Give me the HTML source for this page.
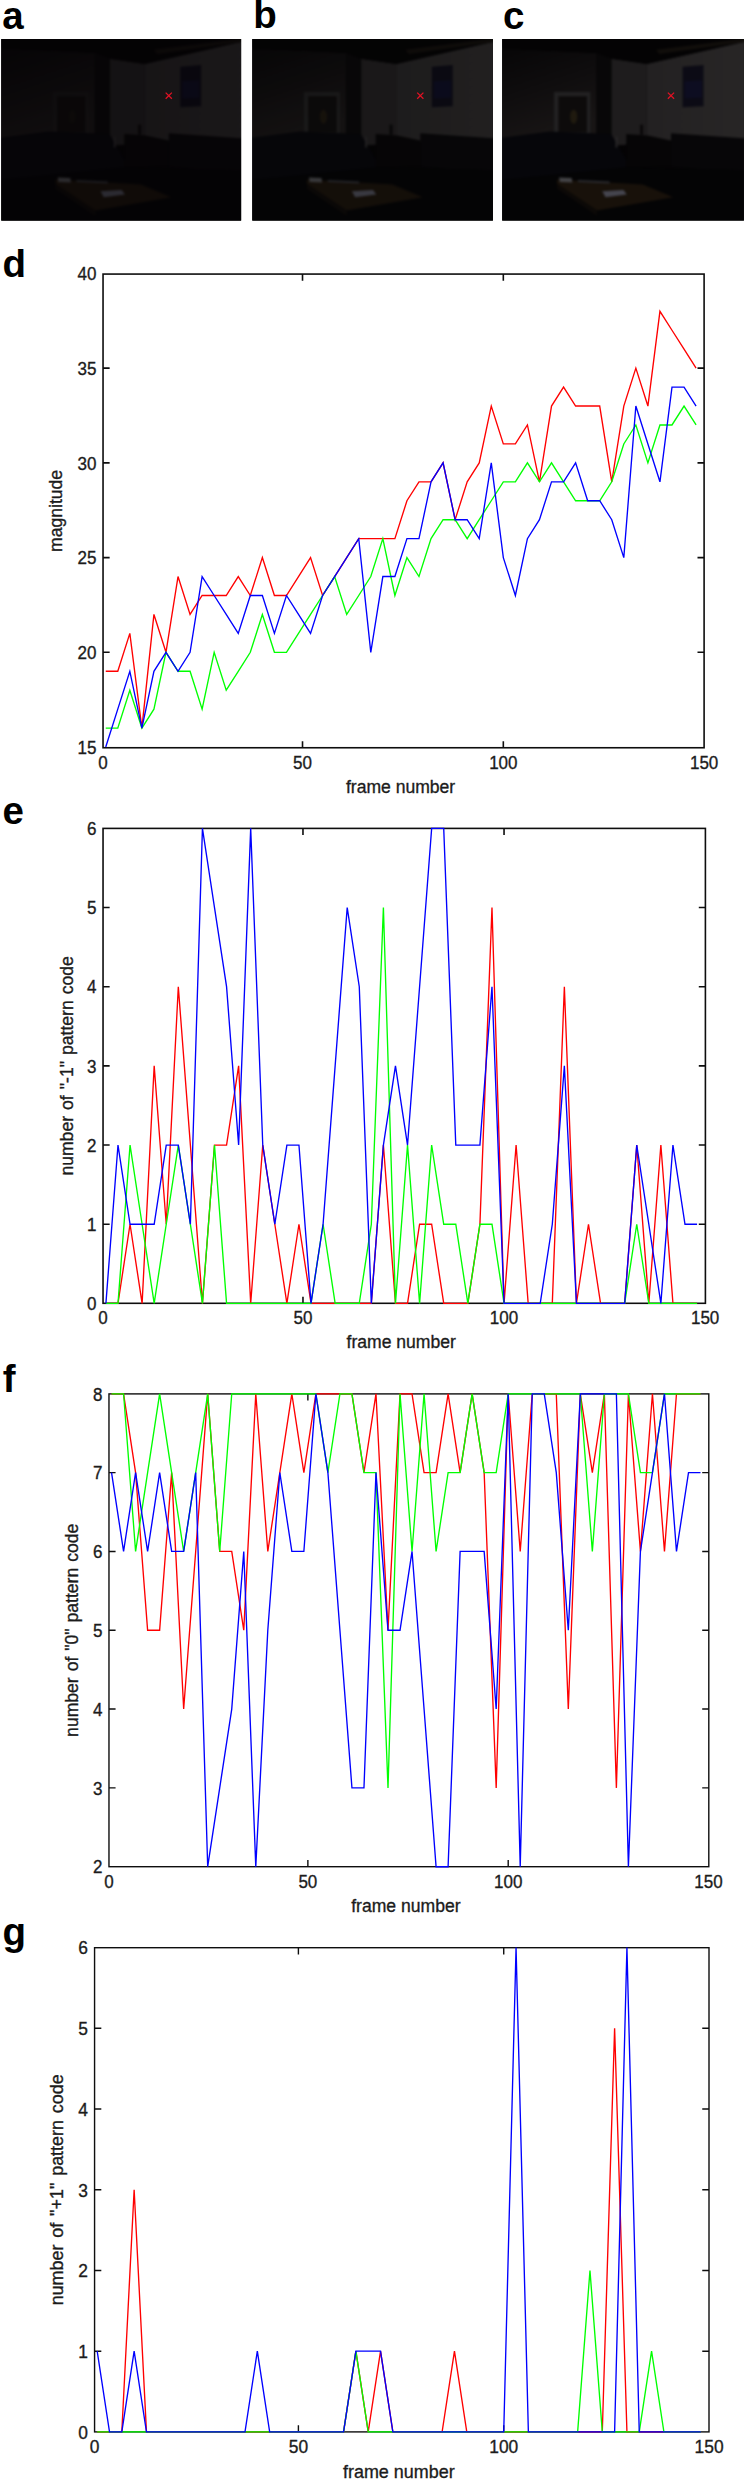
<!DOCTYPE html>
<html lang="en"><head><meta charset="utf-8"><title>Figure</title>
<style>html,body{margin:0;padding:0;background:#fff}svg{display:block}text{font-family:"Liberation Sans", Arial, Helvetica, sans-serif;fill:#1c1c1c;stroke:#1c1c1c;stroke-width:.35px}.pl{font-weight:700;font-size:38.5px;fill:#000;stroke:none}</style>
</head><body>
<svg width="746" height="2481" viewBox="0 0 746 2481">
<rect width="746" height="2481" fill="#fff"/>
<defs>
<filter id="soft" color-interpolation-filters="sRGB" x="-5%" y="-5%" width="110%" height="110%"><feGaussianBlur stdDeviation="1.0"/></filter>
<linearGradient id="lw" x1="0" y1="0" x2="0.35" y2="1"><stop offset="0" stop-color="#080708"/><stop offset="0.5" stop-color="#100e0f"/><stop offset="1" stop-color="#191616"/></linearGradient>
<linearGradient id="rw" x1="0" y1="0" x2="1" y2="0"><stop offset="0" stop-color="#252324"/><stop offset="1" stop-color="#2a2828"/></linearGradient>
</defs>
<g transform="translate(1.30 39.10) scale(0.9992 1.0000)">
<clipPath id="rc1"><rect width="240" height="181.5"/></clipPath>
<rect width="240" height="181.5" fill="#060506"/>
<g clip-path="url(#rc1)"><g filter="url(#soft)">
<polygon points="-2.2,9.1 94.1,14.0 94.1,94.8 -2.2,101.4" fill="url(#lw)"/>
<polygon points="93.4,-0.8 108.6,-0.8 108.6,109.7 93.4,109.7" fill="#090809"/>
<polygon points="108.6,19.7 143.5,24.9 143.5,104.7 108.6,106.4" fill="#201e1f"/>
<polygon points="143.5,24.9 243.4,1.8 243.4,101.4 143.5,103.1" fill="url(#rw)"/>
<polygon points="-2.2,-4.1 243.4,-4.1 243.4,1.8 143.5,24.9 108.6,19.7 94.1,14.0 -2.2,9.1" fill="#050405"/>
<polygon points="152.8,10.7 243.4,-0.8 243.4,2.5 156.1,15.0" fill="#120f0c"/>
<polygon points="179.1,27.6 199.9,25.9 199.9,67.1 179.1,68.1" fill="#0d0c16"/>
<polygon points="181.1,42.1 198.3,41.1 198.3,58.6 181.1,59.5" fill="#12124a" opacity=".25"/>
<polygon points="51.5,53.0 87.5,53.0 87.5,94.2 51.5,94.2" fill="#242324" opacity="0.25"/>
<polygon points="55.8,57.2 84.2,57.2 84.2,93.5 55.8,93.5" fill="#0e0c0c"/>
<ellipse cx="71.0" cy="77.7" rx="3.5" ry="7" fill="#221c10" opacity="0.25"/>
<polygon points="-2.2,98.8 47.2,92.5 108.2,94.8 124.7,122.8 124.7,150.9 -2.2,150.9" fill="#07070b"/>
<polygon points="123.1,94.8 144.5,96.5 167.6,101.4 167.6,127.8 123.1,127.8" fill="#070607"/>
<rect x="112.5" y="97.5" width="2" height="11" fill="#2a282a"/>
<rect x="136.9" y="85.6" width="3" height="10" fill="#0a090a"/>
<polygon points="167.6,94.2 243.4,99.4 243.4,134.4 167.6,127.8" fill="#080709"/>
<polygon points="-2.2,141.0 124.7,127.8 243.4,131.1 243.4,187.1 -2.2,187.1" fill="#050506"/>
<polygon points="54.5,140.3 139.6,145.3 169.9,158.1 94.1,171.3 54.5,144.9" fill="#19120b"/>
<polygon points="54.5,144.9 94.1,171.3 94.1,176.6 54.5,149.6" fill="#0d0a08"/>
<polygon points="56.5,138.3 69.0,139.0 69.7,143.3 57.1,143.0" fill="#454548"/>
<polygon points="75.3,141.0 106.6,142.3 106.6,144.3 75.3,143.0" fill="#2c2c30"/>
<polygon points="99.3,152.2 120.4,150.9 123.7,155.5 102.6,158.1" fill="#484852"/>
</g></g>
<rect width="240" height="181.5" fill="#040304" opacity="0.42"/>
<path d="M164.5 53.5L170.7 59.7M164.5 59.7L170.7 53.5" stroke="#e01224" stroke-width="1.3" fill="none"/>
</g>
<g transform="translate(252.30 39.10) scale(1.0025 1.0000)">
<clipPath id="rc2"><rect width="240" height="181.5"/></clipPath>
<rect width="240" height="181.5" fill="#060506"/>
<g clip-path="url(#rc2)"><g filter="url(#soft)">
<polygon points="-2.2,9.1 94.1,14.0 94.1,94.8 -2.2,101.4" fill="url(#lw)"/>
<polygon points="93.4,-0.8 108.6,-0.8 108.6,109.7 93.4,109.7" fill="#090809"/>
<polygon points="108.6,19.7 143.5,24.9 143.5,104.7 108.6,106.4" fill="#201e1f"/>
<polygon points="143.5,24.9 243.4,1.8 243.4,101.4 143.5,103.1" fill="url(#rw)"/>
<polygon points="-2.2,-4.1 243.4,-4.1 243.4,1.8 143.5,24.9 108.6,19.7 94.1,14.0 -2.2,9.1" fill="#050405"/>
<polygon points="152.8,10.7 243.4,-0.8 243.4,2.5 156.1,15.0" fill="#120f0c"/>
<polygon points="179.1,27.6 199.9,25.9 199.9,67.1 179.1,68.1" fill="#0d0c16"/>
<polygon points="181.1,42.1 198.3,41.1 198.3,58.6 181.1,59.5" fill="#12124a" opacity=".25"/>
<polygon points="51.5,53.0 87.5,53.0 87.5,94.2 51.5,94.2" fill="#242324" opacity="0.70"/>
<polygon points="55.8,57.2 84.2,57.2 84.2,93.5 55.8,93.5" fill="#0e0c0c"/>
<ellipse cx="71.0" cy="77.7" rx="3.5" ry="7" fill="#221c10" opacity="0.70"/>
<polygon points="-2.2,98.8 47.2,92.5 108.2,94.8 124.7,122.8 124.7,150.9 -2.2,150.9" fill="#07070b"/>
<polygon points="123.1,94.8 144.5,96.5 167.6,101.4 167.6,127.8 123.1,127.8" fill="#070607"/>
<rect x="112.5" y="97.5" width="2" height="11" fill="#2a282a"/>
<rect x="136.9" y="85.6" width="3" height="10" fill="#0a090a"/>
<polygon points="167.6,94.2 243.4,99.4 243.4,134.4 167.6,127.8" fill="#080709"/>
<polygon points="-2.2,141.0 124.7,127.8 243.4,131.1 243.4,187.1 -2.2,187.1" fill="#050506"/>
<polygon points="54.5,140.3 139.6,145.3 169.9,158.1 94.1,171.3 54.5,144.9" fill="#19120b"/>
<polygon points="54.5,144.9 94.1,171.3 94.1,176.6 54.5,149.6" fill="#0d0a08"/>
<polygon points="56.5,138.3 69.0,139.0 69.7,143.3 57.1,143.0" fill="#454548"/>
<polygon points="75.3,141.0 106.6,142.3 106.6,144.3 75.3,143.0" fill="#2c2c30"/>
<polygon points="99.3,152.2 120.4,150.9 123.7,155.5 102.6,158.1" fill="#484852"/>
</g></g>
<rect width="240" height="181.5" fill="#040304" opacity="0.22"/>
<path d="M164.5 53.5L170.7 59.7M164.5 59.7L170.7 53.5" stroke="#e01224" stroke-width="1.3" fill="none"/>
</g>
<g transform="translate(502.20 39.10) scale(1.0071 1.0000)">
<clipPath id="rc3"><rect width="240" height="181.5"/></clipPath>
<rect width="240" height="181.5" fill="#060506"/>
<g clip-path="url(#rc3)"><g filter="url(#soft)">
<polygon points="-2.2,9.1 94.1,14.0 94.1,94.8 -2.2,101.4" fill="url(#lw)"/>
<polygon points="93.4,-0.8 108.6,-0.8 108.6,109.7 93.4,109.7" fill="#090809"/>
<polygon points="108.6,19.7 143.5,24.9 143.5,104.7 108.6,106.4" fill="#201e1f"/>
<polygon points="143.5,24.9 243.4,1.8 243.4,101.4 143.5,103.1" fill="url(#rw)"/>
<polygon points="-2.2,-4.1 243.4,-4.1 243.4,1.8 143.5,24.9 108.6,19.7 94.1,14.0 -2.2,9.1" fill="#050405"/>
<polygon points="152.8,10.7 243.4,-0.8 243.4,2.5 156.1,15.0" fill="#120f0c"/>
<polygon points="179.1,27.6 199.9,25.9 199.9,67.1 179.1,68.1" fill="#0d0c16"/>
<polygon points="181.1,42.1 198.3,41.1 198.3,58.6 181.1,59.5" fill="#12124a" opacity=".25"/>
<polygon points="51.5,53.0 87.5,53.0 87.5,94.2 51.5,94.2" fill="#242324" opacity="1.00"/>
<polygon points="55.8,57.2 84.2,57.2 84.2,93.5 55.8,93.5" fill="#0e0c0c"/>
<ellipse cx="71.0" cy="77.7" rx="3.5" ry="7" fill="#221c10" opacity="1.00"/>
<polygon points="-2.2,98.8 47.2,92.5 108.2,94.8 124.7,122.8 124.7,150.9 -2.2,150.9" fill="#07070b"/>
<polygon points="123.1,94.8 144.5,96.5 167.6,101.4 167.6,127.8 123.1,127.8" fill="#070607"/>
<rect x="112.5" y="97.5" width="2" height="11" fill="#2a282a"/>
<rect x="136.9" y="85.6" width="3" height="10" fill="#0a090a"/>
<polygon points="167.6,94.2 243.4,99.4 243.4,134.4 167.6,127.8" fill="#080709"/>
<polygon points="-2.2,141.0 124.7,127.8 243.4,131.1 243.4,187.1 -2.2,187.1" fill="#050506"/>
<polygon points="54.5,140.3 139.6,145.3 169.9,158.1 94.1,171.3 54.5,144.9" fill="#19120b"/>
<polygon points="54.5,144.9 94.1,171.3 94.1,176.6 54.5,149.6" fill="#0d0a08"/>
<polygon points="56.5,138.3 69.0,139.0 69.7,143.3 57.1,143.0" fill="#454548"/>
<polygon points="75.3,141.0 106.6,142.3 106.6,144.3 75.3,143.0" fill="#2c2c30"/>
<polygon points="99.3,152.2 120.4,150.9 123.7,155.5 102.6,158.1" fill="#484852"/>
</g></g>
<rect width="240" height="181.5" fill="#040304" opacity="0.04"/>
<path d="M164.5 53.5L170.7 59.7M164.5 59.7L170.7 53.5" stroke="#e01224" stroke-width="1.3" fill="none"/>
</g>
<text class="pl" x="2.20" y="28.50">a</text>
<text class="pl" x="253.20" y="28.30">b</text>
<text class="pl" x="503.00" y="28.50">c</text>
<text class="pl" x="2.40" y="276.60">d</text>
<text class="pl" x="2.40" y="823.80">e</text>
<text class="pl" x="2.80" y="1392.30">f</text>
<text class="pl" x="2.60" y="1945.00">g</text>
<rect x="103.04" y="274.07" width="601.06" height="473.68" fill="none" stroke="#0e0e0e" stroke-width="1.60"/>
<path d="M302.52 747.75V741.15M302.52 274.07V280.67M503.32 747.75V741.15M503.32 274.07V280.67M103.04 652.32H109.64M704.10 652.32H697.50M103.04 557.60H109.64M704.10 557.60H697.50M103.04 462.87H109.64M704.10 462.87H697.50M103.04 368.15H109.64M704.10 368.15H697.50" stroke="#0e0e0e" stroke-width="1.60" fill="none"/>
<text transform="translate(96.44 753.75) scale(0.910 1)" text-anchor="end" font-size="18.70">15</text>
<text transform="translate(96.44 659.02) scale(0.910 1)" text-anchor="end" font-size="18.70">20</text>
<text transform="translate(96.44 564.30) scale(0.910 1)" text-anchor="end" font-size="18.70">25</text>
<text transform="translate(96.44 469.57) scale(0.910 1)" text-anchor="end" font-size="18.70">30</text>
<text transform="translate(96.44 374.85) scale(0.910 1)" text-anchor="end" font-size="18.70">35</text>
<text transform="translate(96.44 280.12) scale(0.910 1)" text-anchor="end" font-size="18.70">40</text>
<text transform="translate(103.04 768.85) scale(0.910 1)" text-anchor="middle" font-size="18.70">0</text>
<text transform="translate(302.52 768.85) scale(0.910 1)" text-anchor="middle" font-size="18.70">50</text>
<text transform="translate(503.32 768.85) scale(0.910 1)" text-anchor="middle" font-size="18.70">100</text>
<text transform="translate(704.12 768.85) scale(0.910 1)" text-anchor="middle" font-size="18.70">150</text>
<text transform="translate(400.57 792.75) scale(0.940 1)" text-anchor="middle" font-size="18.70">frame number</text>
<text transform="translate(62.20 510.91) rotate(-90) scale(0.940 1)" text-anchor="middle" font-size="18.70">magnitude</text>
<polyline points="105.74,671.27 117.78,671.27 129.83,633.38 141.88,728.10 153.93,614.43 165.98,652.32 178.02,576.54 190.07,614.43 202.12,595.49 214.17,595.49 226.22,595.49 238.26,576.54 250.31,595.49 262.36,557.60 274.41,595.49 286.46,595.49 298.50,576.54 310.55,557.60 322.60,595.49 334.65,576.54 346.70,557.60 358.74,538.65 370.79,538.65 382.84,538.65 394.89,538.65 406.94,500.76 418.98,481.82 431.03,481.82 443.08,462.87 455.13,519.71 467.18,481.82 479.22,462.87 491.27,406.04 503.32,443.93 515.37,443.93 527.42,424.98 539.46,481.82 551.51,406.04 563.56,387.09 575.61,406.04 587.66,406.04 599.70,406.04 611.75,481.82 623.80,406.04 635.85,368.15 647.90,406.04 659.94,311.31 671.99,330.26 684.04,349.20 696.09,368.15" fill="none" stroke="#ff0000" stroke-width="1.35" stroke-linejoin="miter"/>
<polyline points="105.74,728.10 117.78,728.10 129.83,690.21 141.88,728.10 153.93,709.16 165.98,652.32 178.02,671.27 190.07,671.27 202.12,709.16 214.17,652.32 226.22,690.21 238.26,671.27 250.31,652.32 262.36,614.43 274.41,652.32 286.46,652.32 298.50,633.38 310.55,614.43 322.60,595.49 334.65,576.54 346.70,614.43 358.74,595.49 370.79,576.54 382.84,538.65 394.89,595.49 406.94,557.60 418.98,576.54 431.03,538.65 443.08,519.71 455.13,519.71 467.18,538.65 479.22,519.71 491.27,500.76 503.32,481.82 515.37,481.82 527.42,462.87 539.46,481.82 551.51,462.87 563.56,481.82 575.61,500.76 587.66,500.76 599.70,500.76 611.75,481.82 623.80,443.93 635.85,424.98 647.90,462.87 659.94,424.98 671.99,424.98 684.04,406.04 696.09,424.98" fill="none" stroke="#00ff00" stroke-width="1.35" stroke-linejoin="miter"/>
<polyline points="105.74,747.05 117.78,709.16 129.83,671.27 141.88,728.10 153.93,671.27 165.98,652.32 178.02,671.27 190.07,652.32 202.12,576.54 214.17,595.49 226.22,614.43 238.26,633.38 250.31,595.49 262.36,595.49 274.41,633.38 286.46,595.49 298.50,614.43 310.55,633.38 322.60,595.49 334.65,576.54 346.70,557.60 358.74,538.65 370.79,652.32 382.84,576.54 394.89,576.54 406.94,538.65 418.98,538.65 431.03,481.82 443.08,462.87 455.13,519.71 467.18,519.71 479.22,538.65 491.27,462.87 503.32,557.60 515.37,595.49 527.42,538.65 539.46,519.71 551.51,481.82 563.56,481.82 575.61,462.87 587.66,500.76 599.70,500.76 611.75,519.71 623.80,557.60 635.85,406.04 647.90,443.93 659.94,481.82 671.99,387.09 684.04,387.09 696.09,406.04" fill="none" stroke="#0000ff" stroke-width="1.35" stroke-linejoin="miter"/>
<rect x="103.04" y="828.40" width="602.36" height="474.90" fill="none" stroke="#0e0e0e" stroke-width="1.60"/>
<path d="M302.97 1303.30V1296.70M302.97 828.40V835.00M504.04 1303.30V1296.70M504.04 828.40V835.00M103.04 1224.23H109.64M705.40 1224.23H698.80M103.04 1145.05H109.64M705.40 1145.05H698.80M103.04 1065.88H109.64M705.40 1065.88H698.80M103.04 986.70H109.64M705.40 986.70H698.80M103.04 907.53H109.64M705.40 907.53H698.80" stroke="#0e0e0e" stroke-width="1.60" fill="none"/>
<text transform="translate(96.44 1310.10) scale(0.910 1)" text-anchor="end" font-size="18.70">0</text>
<text transform="translate(96.44 1230.93) scale(0.910 1)" text-anchor="end" font-size="18.70">1</text>
<text transform="translate(96.44 1151.75) scale(0.910 1)" text-anchor="end" font-size="18.70">2</text>
<text transform="translate(96.44 1072.58) scale(0.910 1)" text-anchor="end" font-size="18.70">3</text>
<text transform="translate(96.44 993.40) scale(0.910 1)" text-anchor="end" font-size="18.70">4</text>
<text transform="translate(96.44 914.23) scale(0.910 1)" text-anchor="end" font-size="18.70">5</text>
<text transform="translate(96.44 835.05) scale(0.910 1)" text-anchor="end" font-size="18.70">6</text>
<text transform="translate(103.04 1324.40) scale(0.910 1)" text-anchor="middle" font-size="18.70">0</text>
<text transform="translate(302.97 1324.40) scale(0.910 1)" text-anchor="middle" font-size="18.70">50</text>
<text transform="translate(504.04 1324.40) scale(0.910 1)" text-anchor="middle" font-size="18.70">100</text>
<text transform="translate(705.11 1324.40) scale(0.910 1)" text-anchor="middle" font-size="18.70">150</text>
<text transform="translate(401.22 1348.30) scale(0.940 1)" text-anchor="middle" font-size="18.70">frame number</text>
<text transform="translate(72.90 1065.85) rotate(-90) scale(0.940 1)" text-anchor="middle" font-size="18.70" word-spacing="1.30">number of "-1" pattern code</text>
<polyline points="105.92,1303.40 117.99,1303.40 130.05,1224.23 142.11,1303.40 154.18,1065.88 166.24,1224.23 178.31,986.70 190.37,1145.05 202.44,1303.40 214.50,1145.05 226.56,1145.05 238.63,1065.88 250.69,1303.40 262.76,1145.05 274.82,1224.23 286.88,1303.40 298.95,1224.23 311.01,1303.40 323.08,1303.40 335.14,1303.40 347.21,1303.40 359.27,1303.40 371.33,1303.40 383.40,1145.05 395.46,1303.40 407.53,1303.40 419.59,1224.23 431.65,1224.23 443.72,1303.40 455.78,1303.40 467.85,1303.40 479.91,1224.23 491.98,907.53 504.04,1303.40 516.10,1145.05 528.17,1303.40 540.23,1303.40 552.30,1303.40 564.36,986.70 576.43,1303.40 588.49,1224.23 600.55,1303.40 612.62,1303.40 624.68,1303.40 636.75,1145.05 648.81,1303.40 660.87,1145.05 672.94,1303.40 685.00,1303.40 697.07,1303.40" fill="none" stroke="#ff0000" stroke-width="1.35" stroke-linejoin="miter"/>
<polyline points="105.92,1303.40 117.99,1303.40 130.05,1145.05 142.11,1224.23 154.18,1303.40 166.24,1224.23 178.31,1145.05 190.37,1224.23 202.44,1303.40 214.50,1145.05 226.56,1303.40 238.63,1303.40 250.69,1303.40 262.76,1303.40 274.82,1303.40 286.88,1303.40 298.95,1303.40 311.01,1303.40 323.08,1224.23 335.14,1303.40 347.21,1303.40 359.27,1303.40 371.33,1224.23 383.40,907.53 395.46,1303.40 407.53,1145.05 419.59,1303.40 431.65,1145.05 443.72,1224.23 455.78,1224.23 467.85,1303.40 479.91,1224.23 491.98,1224.23 504.04,1303.40 516.10,1303.40 528.17,1303.40 540.23,1303.40 552.30,1303.40 564.36,1303.40 576.43,1303.40 588.49,1303.40 600.55,1303.40 612.62,1303.40 624.68,1303.40 636.75,1224.23 648.81,1303.40 660.87,1303.40 672.94,1303.40 685.00,1303.40 697.07,1303.40" fill="none" stroke="#00ff00" stroke-width="1.35" stroke-linejoin="miter"/>
<polyline points="105.92,1303.40 117.99,1145.05 130.05,1224.23 142.11,1224.23 154.18,1224.23 166.24,1145.05 178.31,1145.05 190.37,1224.23 202.44,828.35 214.50,907.53 226.56,986.70 238.63,1145.05 250.69,828.35 262.76,1145.05 274.82,1224.23 286.88,1145.05 298.95,1145.05 311.01,1303.40 323.08,1224.23 335.14,1065.88 347.21,907.53 359.27,986.70 371.33,1303.40 383.40,1145.05 395.46,1065.88 407.53,1145.05 419.59,986.70 431.65,828.35 443.72,828.35 455.78,1145.05 467.85,1145.05 479.91,1145.05 491.98,986.70 504.04,1303.40 516.10,1303.40 528.17,1303.40 540.23,1303.40 552.30,1224.23 564.36,1065.88 576.43,1303.40 588.49,1303.40 600.55,1303.40 612.62,1303.40 624.68,1303.40 636.75,1145.05 648.81,1224.23 660.87,1303.40 672.94,1145.05 685.00,1224.23 697.07,1224.23" fill="none" stroke="#0000ff" stroke-width="1.35" stroke-linejoin="miter"/>
<rect x="108.97" y="1393.90" width="599.83" height="472.80" fill="none" stroke="#0e0e0e" stroke-width="1.40"/>
<path d="M307.87 1866.70V1860.10M307.87 1393.90V1400.50M508.20 1866.70V1860.10M508.20 1393.90V1400.50M108.97 1787.88H115.57M708.80 1787.88H702.20M108.97 1709.07H115.57M708.80 1709.07H702.20M108.97 1630.26H115.57M708.80 1630.26H702.20M108.97 1551.44H115.57M708.80 1551.44H702.20M108.97 1472.62H115.57M708.80 1472.62H702.20" stroke="#0e0e0e" stroke-width="1.40" fill="none"/>
<text transform="translate(102.37 1873.40) scale(0.910 1)" text-anchor="end" font-size="18.70">2</text>
<text transform="translate(102.37 1794.59) scale(0.910 1)" text-anchor="end" font-size="18.70">3</text>
<text transform="translate(102.37 1715.77) scale(0.910 1)" text-anchor="end" font-size="18.70">4</text>
<text transform="translate(102.37 1636.96) scale(0.910 1)" text-anchor="end" font-size="18.70">5</text>
<text transform="translate(102.37 1558.14) scale(0.910 1)" text-anchor="end" font-size="18.70">6</text>
<text transform="translate(102.37 1479.33) scale(0.910 1)" text-anchor="end" font-size="18.70">7</text>
<text transform="translate(102.37 1400.51) scale(0.910 1)" text-anchor="end" font-size="18.70">8</text>
<text transform="translate(108.97 1887.80) scale(0.910 1)" text-anchor="middle" font-size="18.70">0</text>
<text transform="translate(307.87 1887.80) scale(0.910 1)" text-anchor="middle" font-size="18.70">50</text>
<text transform="translate(508.20 1887.80) scale(0.910 1)" text-anchor="middle" font-size="18.70">100</text>
<text transform="translate(708.53 1887.80) scale(0.910 1)" text-anchor="middle" font-size="18.70">150</text>
<text transform="translate(405.88 1911.70) scale(0.940 1)" text-anchor="middle" font-size="18.70">frame number</text>
<text transform="translate(78.00 1630.30) rotate(-90) scale(0.940 1)" text-anchor="middle" font-size="18.70" word-spacing="1.20">number of "0" pattern code</text>
<polyline points="111.55,1393.81 123.57,1393.81 135.59,1472.62 147.61,1630.26 159.63,1630.26 171.65,1472.62 183.67,1709.07 195.69,1551.44 207.70,1393.81 219.72,1551.44 231.74,1551.44 243.76,1630.26 255.78,1393.81 267.80,1551.44 279.82,1472.62 291.84,1393.81 303.86,1472.62 315.88,1393.81 327.90,1393.81 339.92,1393.81 351.94,1393.81 363.96,1472.62 375.98,1393.81 388.00,1630.26 400.02,1393.81 412.04,1393.81 424.06,1472.62 436.08,1472.62 448.10,1393.81 460.12,1472.62 472.14,1393.81 484.16,1472.62 496.18,1787.88 508.20,1393.81 520.22,1551.44 532.24,1393.81 544.26,1393.81 556.28,1393.81 568.30,1709.07 580.32,1393.81 592.34,1472.62 604.36,1393.81 616.38,1787.88 628.40,1393.81 640.42,1551.44 652.44,1393.81 664.46,1551.44 676.48,1393.81 688.50,1393.81 700.52,1393.81" fill="none" stroke="#ff0000" stroke-width="1.35" stroke-linejoin="miter"/>
<polyline points="111.55,1393.81 123.57,1393.81 135.59,1551.44 147.61,1472.62 159.63,1393.81 171.65,1472.62 183.67,1551.44 195.69,1472.62 207.70,1393.81 219.72,1551.44 231.74,1393.81 243.76,1393.81 255.78,1393.81 267.80,1393.81 279.82,1393.81 291.84,1393.81 303.86,1393.81 315.88,1393.81 327.90,1472.62 339.92,1393.81 351.94,1393.81 363.96,1472.62 375.98,1472.62 388.00,1787.88 400.02,1393.81 412.04,1551.44 424.06,1393.81 436.08,1551.44 448.10,1472.62 460.12,1472.62 472.14,1393.81 484.16,1472.62 496.18,1472.62 508.20,1393.81 520.22,1393.81 532.24,1393.81 544.26,1393.81 556.28,1393.81 568.30,1393.81 580.32,1393.81 592.34,1551.44 604.36,1393.81 616.38,1393.81 628.40,1393.81 640.42,1472.62 652.44,1472.62 664.46,1393.81 676.48,1393.81 688.50,1393.81 700.52,1393.81" fill="none" stroke="#00ff00" stroke-width="1.35" stroke-linejoin="miter"/>
<polyline points="111.55,1472.62 123.57,1551.44 135.59,1472.62 147.61,1551.44 159.63,1472.62 171.65,1551.44 183.67,1551.44 195.69,1472.62 207.70,1866.70 219.72,1787.88 231.74,1709.07 243.76,1551.44 255.78,1866.70 267.80,1630.26 279.82,1472.62 291.84,1551.44 303.86,1551.44 315.88,1393.81 327.90,1472.62 339.92,1630.26 351.94,1787.88 363.96,1787.88 375.98,1472.62 388.00,1630.26 400.02,1630.26 412.04,1551.44 424.06,1709.07 436.08,1866.70 448.10,1866.70 460.12,1551.44 472.14,1551.44 484.16,1551.44 496.18,1709.07 508.20,1393.81 520.22,1866.70 532.24,1393.81 544.26,1393.81 556.28,1472.62 568.30,1630.26 580.32,1393.81 592.34,1393.81 604.36,1393.81 616.38,1393.81 628.40,1866.70 640.42,1551.44 652.44,1472.62 664.46,1393.81 676.48,1551.44 688.50,1472.62 700.52,1472.62" fill="none" stroke="#0000ff" stroke-width="1.35" stroke-linejoin="miter"/>
<rect x="94.57" y="1947.70" width="614.43" height="484.20" fill="none" stroke="#0e0e0e" stroke-width="1.40"/>
<path d="M298.40 2431.90V2425.15M298.40 1947.70V1954.45M503.73 2431.90V2425.15M503.73 1947.70V1954.45M94.57 2351.18H101.32M709.00 2351.18H702.25M94.57 2270.45H101.32M709.00 2270.45H702.25M94.57 2189.72H101.32M709.00 2189.72H702.25M94.57 2109.00H101.32M709.00 2109.00H702.25M94.57 2028.28H101.32M709.00 2028.28H702.25" stroke="#0e0e0e" stroke-width="1.40" fill="none"/>
<text transform="translate(87.82 2438.75) scale(0.910 1)" text-anchor="end" font-size="19.10">0</text>
<text transform="translate(87.82 2358.02) scale(0.910 1)" text-anchor="end" font-size="19.10">1</text>
<text transform="translate(87.82 2277.30) scale(0.910 1)" text-anchor="end" font-size="19.10">2</text>
<text transform="translate(87.82 2196.57) scale(0.910 1)" text-anchor="end" font-size="19.10">3</text>
<text transform="translate(87.82 2115.85) scale(0.910 1)" text-anchor="end" font-size="19.10">4</text>
<text transform="translate(87.82 2035.12) scale(0.910 1)" text-anchor="end" font-size="19.10">5</text>
<text transform="translate(87.82 1954.40) scale(0.910 1)" text-anchor="end" font-size="19.10">6</text>
<text transform="translate(94.57 2453.46) scale(0.910 1)" text-anchor="middle" font-size="19.10">0</text>
<text transform="translate(298.40 2453.46) scale(0.910 1)" text-anchor="middle" font-size="19.10">50</text>
<text transform="translate(503.73 2453.46) scale(0.910 1)" text-anchor="middle" font-size="19.10">100</text>
<text transform="translate(709.06 2453.46) scale(0.910 1)" text-anchor="middle" font-size="19.10">150</text>
<text transform="translate(398.78 2477.89) scale(0.940 1)" text-anchor="middle" font-size="19.10">frame number</text>
<text transform="translate(62.80 2189.80) rotate(-90) scale(0.940 1)" text-anchor="middle" font-size="19.10" word-spacing="2.00">number of "+1" pattern code</text>
<polyline points="97.18,2431.90 109.50,2431.90 121.82,2431.90 134.14,2189.72 146.46,2431.90 158.78,2431.90 171.10,2431.90 183.42,2431.90 195.74,2431.90 208.05,2431.90 220.37,2431.90 232.69,2431.90 245.01,2431.90 257.33,2431.90 269.65,2431.90 281.97,2431.90 294.29,2431.90 306.61,2431.90 318.93,2431.90 331.25,2431.90 343.57,2431.90 355.89,2351.18 368.21,2431.90 380.53,2351.18 392.85,2431.90 405.17,2431.90 417.49,2431.90 429.81,2431.90 442.13,2431.90 454.45,2351.18 466.77,2431.90 479.09,2431.90 491.41,2431.90 503.73,2431.90 516.05,2431.90 528.37,2431.90 540.69,2431.90 553.01,2431.90 565.33,2431.90 577.65,2431.90 589.97,2431.90 602.29,2431.90 614.61,2028.28 626.93,2431.90 639.25,2431.90 651.57,2431.90 663.89,2431.90 676.21,2431.90 688.53,2431.90 700.85,2431.90" fill="none" stroke="#ff0000" stroke-width="1.35" stroke-linejoin="miter"/>
<polyline points="97.18,2431.90 109.50,2431.90 121.82,2431.90 134.14,2431.90 146.46,2431.90 158.78,2431.90 171.10,2431.90 183.42,2431.90 195.74,2431.90 208.05,2431.90 220.37,2431.90 232.69,2431.90 245.01,2431.90 257.33,2431.90 269.65,2431.90 281.97,2431.90 294.29,2431.90 306.61,2431.90 318.93,2431.90 331.25,2431.90 343.57,2431.90 355.89,2351.18 368.21,2431.90 380.53,2431.90 392.85,2431.90 405.17,2431.90 417.49,2431.90 429.81,2431.90 442.13,2431.90 454.45,2431.90 466.77,2431.90 479.09,2431.90 491.41,2431.90 503.73,2431.90 516.05,2431.90 528.37,2431.90 540.69,2431.90 553.01,2431.90 565.33,2431.90 577.65,2431.90 589.97,2270.45 602.29,2431.90 614.61,2431.90 626.93,2431.90 639.25,2431.90 651.57,2351.18 663.89,2431.90 676.21,2431.90 688.53,2431.90 700.85,2431.90" fill="none" stroke="#00ff00" stroke-width="1.35" stroke-linejoin="miter"/>
<polyline points="97.18,2351.18 109.50,2431.90 121.82,2431.90 134.14,2351.18 146.46,2431.90 158.78,2431.90 171.10,2431.90 183.42,2431.90 195.74,2431.90 208.05,2431.90 220.37,2431.90 232.69,2431.90 245.01,2431.90 257.33,2351.18 269.65,2431.90 281.97,2431.90 294.29,2431.90 306.61,2431.90 318.93,2431.90 331.25,2431.90 343.57,2431.90 355.89,2351.18 368.21,2351.18 380.53,2351.18 392.85,2431.90 405.17,2431.90 417.49,2431.90 429.81,2431.90 442.13,2431.90 454.45,2431.90 466.77,2431.90 479.09,2431.90 491.41,2431.90 503.73,2431.90 516.05,1947.55 528.37,2431.90 540.69,2431.90 553.01,2431.90 565.33,2431.90 577.65,2431.90 589.97,2431.90 602.29,2431.90 614.61,2431.90 626.93,1947.55 639.25,2431.90 651.57,2431.90 663.89,2431.90 676.21,2431.90 688.53,2431.90 700.85,2431.90" fill="none" stroke="#0000ff" stroke-width="1.35" stroke-linejoin="miter"/>
</svg></body></html>
